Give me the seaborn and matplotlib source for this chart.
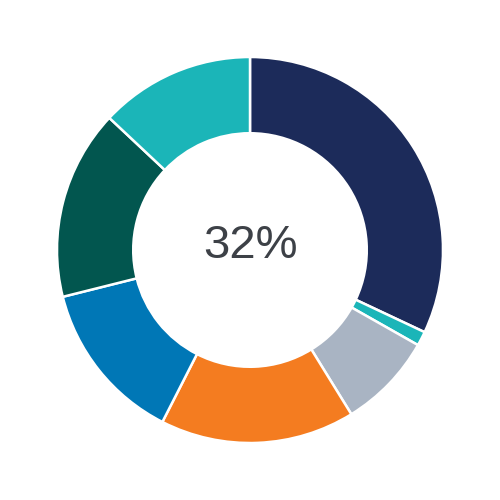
import matplotlib
matplotlib.use("Agg")
import matplotlib.pyplot as plt
import seaborn as sns

# Segment shares (percent), clockwise from 12 o'clock
segments = ["Navy", "Teal small", "Gray", "Orange", "Blue", "Dark green", "Teal"]
shares = [32.0, 1.2, 8.0, 16.3, 13.6, 15.9, 13.0]
colors = ["#1c2b5a", "#1bb5b8", "#a9b4c3", "#f47c20", "#0077b6", "#02564f", "#1bb5b8"]
center_label = "32%"

sns.set_theme(style="white")
plt.rcParams["font.family"] = ["Liberation Sans", "DejaVu Sans"]

fig = plt.figure(figsize=(5, 5), dpi=100)
ax = fig.add_axes([0, 0, 1, 1])

ax.pie(
    shares,
    colors=sns.color_palette(colors),
    startangle=90,
    counterclock=False,
    radius=1.0,
    wedgeprops={"width": 0.395, "edgecolor": "white", "linewidth": 1.8},
)

ax.text(0, 0.02, center_label, ha="center", va="center",
        fontsize=34, color="#3d4147")

lim = 250 / 193
ax.set_xlim(-lim, lim)
ax.set_ylim(-lim, lim)
ax.set_aspect("equal")
ax.axis("off")

fig.savefig("out.png", dpi=100, facecolor="white")
